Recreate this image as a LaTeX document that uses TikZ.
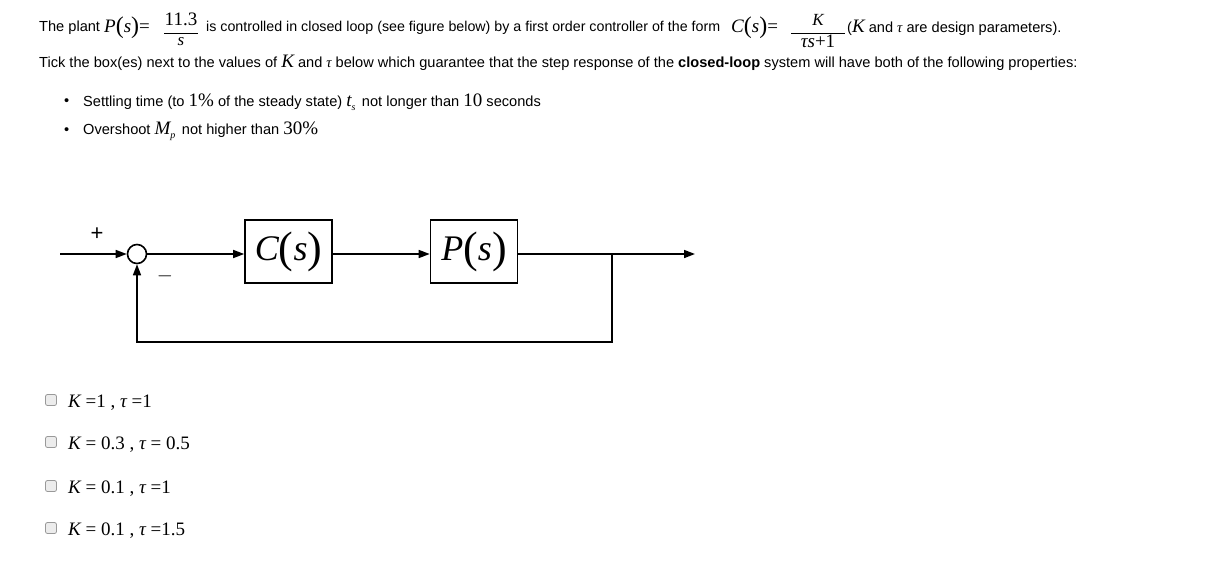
\documentclass[tikz,border=0pt]{standalone}
\usepackage{fontspec}
\setmainfont{Liberation Sans}
\newfontfamily\mser{Liberation Serif}
\usetikzlibrary{arrows.meta}
\newcommand{\mi}[1]{{\mser\itshape #1}}
\newcommand{\mr}[1]{{\mser #1}}
\newcommand{\bm}{\fontsize{19}{21}\selectfont}
\begin{document}
\begin{tikzpicture}[x=1pt,y=-1pt,
  txt/.style={anchor=west,inner sep=0pt,font=\fontsize{14.6}{17}\selectfont},
  mth/.style={inner sep=0pt,font=\fontsize{19}{21}\selectfont\mser},
  blk/.style={draw,line width=1.6pt,minimum width=87pt,minimum height=63pt,inner sep=0pt,font=\fontsize{36}{38}\selectfont\mser},
  wire/.style={line width=1.6pt},
  arr/.style={wire,-{Triangle[length=11pt,width=8pt]}},
  cb/.style={draw=gray!80,fill=gray!15,rounded corners=2pt,minimum size=11pt,inner sep=0pt,line width=0.8pt}]
\useasboundingbox (0,0) rectangle (1207,568);
% line 1
\node[txt] (l1a) at (39,28) {The plant};
\node[mth,anchor=west] (pf) at (104,28) {\mi{P}\raisebox{-1pt}{\fontsize{24}{24}\selectfont(}\mi{s}\raisebox{-1pt}{\fontsize{24}{24}\selectfont)}=};
\node[mth,anchor=south] (pn) at (181,26) {11.3};
\draw (164,33) -- (198,33);
\node[mth,anchor=north,font=\fontsize{17}{19}\selectfont\mser\itshape] (pd) at (181,37) {s};
\node[txt,font=\fontsize{14.25}{17}\selectfont] (l1b) at (206,28) {is controlled in closed loop (see figure below) by a first order controller of the form};
\node[mth,anchor=west] (cf) at (731,28) {\mi{C}\raisebox{-1pt}{\fontsize{24}{24}\selectfont(}\mi{s}\raisebox{-1pt}{\fontsize{24}{24}\selectfont)}=};
\node[mth,anchor=south,font=\fontsize{17}{19}\selectfont\mser\itshape] (cn) at (818,26) {K};
\draw (791,33) -- (845,33);
\node[mth,anchor=north] (cd) at (818,35) {\mi{τs}+1};
\node[txt] (l1c) at (847,28) {(\mi{\bm K} and \mi{τ} are design parameters).};
% line 2
\node[txt] (l2) at (39,63) {Tick the box(es) next to the values of \mi{\bm K} and \mi{τ} below which guarantee that the step response of the \textbf{closed-loop} system will have both of the following properties:};
% bullets
\node[txt] (d1) at (64,102) {•};
\node[txt] (b1) at (83,102) {Settling time (to \mr{\bm 1\%} of the steady state) \mi{\bm t}\raisebox{-4pt}{\mi{\fontsize{10}{11}\selectfont s}}\, not longer than \mr{\bm 10} seconds};
\node[txt] (d2) at (64,131) {•};
\node[txt] (b2) at (83,131) {Overshoot \mi{\bm M}\raisebox{-4pt}{\mi{\fontsize{10}{11}\selectfont p}}\, not higher than \mr{\bm 30\%}};
% diagram
\coordinate (in) at (60,254);
\node[draw,circle,line width=1.6pt,minimum size=19pt,inner sep=0pt] (sum) at (137,254) {};
\node[blk] (C) at (288.5,251.5) {\itshape C\upshape\raisebox{-2pt}{\fontsize{44}{44}\selectfont(}\itshape s\upshape\raisebox{-2pt}{\fontsize{44}{44}\selectfont)}};
\node[blk] (P) at (474,251.5) {\itshape P\upshape\raisebox{-2pt}{\fontsize{44}{44}\selectfont(}\itshape s\upshape\raisebox{-2pt}{\fontsize{44}{44}\selectfont)}};
\coordinate (out) at (695,254);
\coordinate (br) at (612,254);
\coordinate (fb) at (612,342);
\draw[arr] (in) -- (sum.west);
\draw[arr] (sum.east) -- (C.west|-sum);
\draw[arr] (C.east|-sum) -- (P.west|-sum);
\draw[arr] (P.east|-sum) -- (out);
\draw[arr] (br) -- (fb) -| (sum.south);
\node[font=\fontsize{22}{22}\selectfont] (plus) at (97,234) {+};
\node[font=\fontsize{22}{22}\selectfont] (minus) at (165,276) {$-$};
% options
\foreach \y/\t [count=\i] in {403/{\mi{K} =1 , \mi{τ} =1}, 445/{\mi{K} = 0.3 , \mi{τ} = 0.5}, 489/{\mi{K} = 0.1 , \mi{τ} =1}, 531/{\mi{K} = 0.1 , \mi{τ} =1.5}}{
  \node[cb] (c\i) at (51,\y-3) {};
  \node[mth,anchor=west] (o\i) at (68,\y) {\t};
}
\end{tikzpicture}
\end{document}
